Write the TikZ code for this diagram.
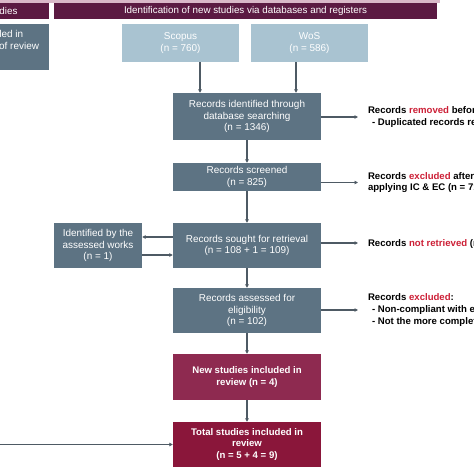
\documentclass[tikz,border=0pt]{standalone}
\usepackage{fontspec}
\setmainfont{Liberation Sans}
\usetikzlibrary{arrows.meta,calc}
\definecolor{slate}{HTML}{5D7383}
\definecolor{lightbox}{HTML}{A9C3D1}
\definecolor{hdr}{HTML}{5B1A42}
\definecolor{hdrline}{HTML}{D9B8C8}
\definecolor{newinc}{HTML}{8E2A50}
\definecolor{totinc}{HTML}{8A163A}
\definecolor{redtxt}{HTML}{CC1F36}
\definecolor{arrcol}{HTML}{4E5A64}
\tikzset{
  box/.style={rectangle, fill=slate, text=white, align=center, inner sep=0pt,
    font=\fontsize{9.95}{11.8}\selectfont, minimum width=148pt},
  srcbox/.style={box, fill=lightbox, minimum width=117pt, minimum height=38pt},
  hdrbox/.style={rectangle, fill=hdr, text=white, inner sep=0pt,
    font=\fontsize{9.8}{11}\selectfont, minimum height=16pt},
  incbox/.style={box, font=\bfseries\fontsize{9.6}{11.8}\selectfont},
  sidelbl/.style={anchor=west, align=left, inner sep=0pt, outer sep=0pt,
    font=\bfseries\fontsize{9.6}{11.8}\selectfont, text=black},
  arr/.style={draw=arrcol, line width=1.2pt, -{Triangle[length=3.5pt,width=3.5pt]}},
}
\begin{document}
\begin{tikzpicture}[x=1pt,y=-1pt]
\useasboundingbox (0,0) rectangle (474,474);
\clip (0,0) rectangle (474,474);
\fill[hdrline] (-120,0) rectangle (440,3);
% headers
\node[hdrbox, minimum width=135pt] (prevhdr) at (-18.5,11) {Previous studies};
\node[hdrbox, minimum width=383pt] (newhdr) at (245.5,11) {Identification of new studies via databases and registers};
% previous studies box
\node[box, minimum width=135pt, minimum height=46pt] (prev) at (-18.5,47) {Studies included in\\previous version of review\\(n = 5)};
% sources
\node[srcbox] (scopus) at (180.5,43) {Scopus\\(n = 760)};
\node[srcbox] (wos) at (309.5,43) {WoS\\(n = 586)};
% main column
\node[box, minimum height=47pt] (ident) at (247,116.5) {Records identified through\\database searching\\(n = 1346)};
\node[box, minimum height=28pt] (screened) at (247,177) {Records screened\\(n = 825)};
\node[box, minimum height=45pt] (sought) at (247,245.5) {Records sought for retrieval\\(n = 108 + 1 = 109)};
\node[box, minimum width=88pt, minimum height=45pt] (idworks) at (98,245.5) {Identified by the\\assessed works\\(n = 1)};
\node[box, minimum height=45pt] (assessed) at (247,310.5) {Records assessed for\\eligibility\\(n = 102)};
\node[incbox, fill=newinc, minimum height=46pt] (newinc) at (247,377) {New studies included in\\review (n = 4)};
\node[incbox, fill=totinc, minimum height=45pt] (total) at (247,444.5) {Total studies included in\\review\\(n = 5 + 4 = 9)};
% side labels
\node[sidelbl] (rem) at (368,117) {Records \textcolor{redtxt}{removed} before screening:\\\hspace{4pt}- Duplicated records removed (n = 521)};
\node[sidelbl] (excl1) at (368,182.5) {Records \textcolor{redtxt}{excluded} after\\applying IC \& EC (n = 717)};
\node[sidelbl] (notret) at (368,244) {Records \textcolor{redtxt}{not retrieved} (n = 7)};
\node[sidelbl] (excl2) at (368,310) {Records \textcolor{redtxt}{excluded}:\\\hspace{4pt}- Non-compliant with eligibility criteria\\\hspace{4pt}- Not the more complete version};
% arrows from sources
\path ([xshift=19.5pt]scopus.south) coordinate (s1);
\path ([xshift=-13.5pt]wos.south) coordinate (w1);
\draw[arr] (s1) -- (s1 |- ident.north);
\draw[arr] (w1) -- (w1 |- ident.north);
% main vertical arrows
\draw[arr] (ident) -- (screened);
\draw[arr] (screened) -- (sought);
\draw[arr] (sought) -- (assessed);
\draw[arr] (assessed) -- (newinc);
\draw[arr] (newinc) -- (total);
% side arrows
\draw[arr, shorten >=10pt] (ident.east |- rem.west) -- (rem.west);
\draw[arr, shorten >=10pt] (screened.east |- excl1.west) -- (excl1.west);
\draw[arr, shorten >=10pt] ([yshift=1pt]sought.east |- notret.west) -- ([yshift=1pt]notret.west);
\draw[arr, shorten >=10pt] (assessed.east |- excl2.west) -- (excl2.west);
% identified by the assessed works
\draw[arr] ([yshift=8.5pt]sought.west) -- ([yshift=8.5pt]sought.west -| idworks.east);
\draw[arr] ([yshift=-9.5pt]idworks.east) -- ([yshift=-9.5pt]idworks.east -| sought.west);
% previous studies to total
\draw[arr] (prev.south) |- (total.west);
\end{tikzpicture}
\end{document}
